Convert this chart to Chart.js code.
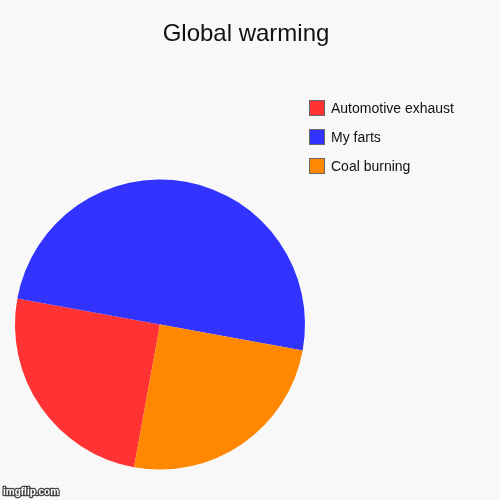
<!DOCTYPE html>
<html>
<head>
<meta charset="utf-8">
<script src="https://cdn.jsdelivr.net/npm/chart.js@4/dist/chart.umd.min.js"></script>
<style>
html,body{margin:0;padding:0;background:#f8f8f8;}
canvas{display:block;}
</style>
</head>
<body>
<canvas id="c" width="500" height="500"></canvas>
<script>
const chartTitle = "Global warming";
const categories = ["Automotive exhaust", "My farts", "Coal burning"];
const values = [25, 50, 25];
const colors = ["#ff3333", "#3333ff", "#ff8800"];

const bgPlugin = {
  id: 'bg',
  beforeDraw(chart) {
    const ctx = chart.ctx;
    ctx.save();
    ctx.fillStyle = '#f8f8f8';
    ctx.fillRect(0, 0, chart.width, chart.height);
    ctx.restore();
  }
};

const overlayPlugin = {
  id: 'overlay',
  afterDraw(chart) {
    const ctx = chart.ctx;
    const ds = chart.data.datasets[0];
    ctx.save();
    // title
    ctx.font = '24px "Liberation Sans", Arial, sans-serif';
    ctx.fillStyle = '#111';
    ctx.textAlign = 'center';
    ctx.textBaseline = 'alphabetic';
    ctx.fillText(chartTitle, 246, 41);
    // legend
    ctx.textAlign = 'left';
    ctx.font = '14px "Liberation Sans", Arial, sans-serif';
    ctx.textBaseline = 'middle';
    chart.data.labels.forEach((lab, i) => {
      const x = 309.5, y = 100.5 + i * 29;
      ctx.fillStyle = ds.backgroundColor[i];
      ctx.fillRect(x, y, 15, 15);
      ctx.strokeStyle = '#666';
      ctx.lineWidth = 1;
      ctx.strokeRect(x, y, 15, 15);
      ctx.fillStyle = '#111';
      ctx.fillText(lab, 331, y + 8.5);
    });
    // watermark
    ctx.font = 'bold 10px "Liberation Sans", Arial, sans-serif';
    ctx.textBaseline = 'alphabetic';
    ctx.lineWidth = 2.5;
    ctx.strokeStyle = '#444';
    ctx.lineJoin = 'round';
    ctx.strokeText('imgflip.com', 3, 495);
    ctx.fillStyle = '#fff';
    ctx.fillText('imgflip.com', 3, 495);
    ctx.restore();
  }
};

new Chart(document.getElementById('c'), {
  type: 'pie',
  data: {
    labels: categories,
    datasets: [{
      data: values,
      backgroundColor: colors,
      borderWidth: 0,
      hoverOffset: 0
    }]
  },
  options: {
    responsive: false,
    animation: false,
    devicePixelRatio: 1,
    rotation: 190.3,
    layout: { padding: { left: 15, right: 195, top: 179.5, bottom: 30.5 } },
    plugins: {
      legend: { display: false },
      tooltip: { enabled: false },
      title: { display: false }
    }
  },
  plugins: [bgPlugin, overlayPlugin]
});
</script>
</body>
</html>
